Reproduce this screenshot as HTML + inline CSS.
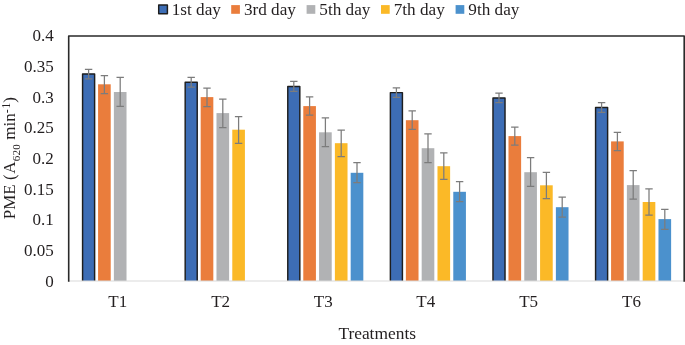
<!DOCTYPE html>
<html><head><meta charset="utf-8"><title>PME chart</title>
<style>html,body{margin:0;padding:0;background:#fff}svg{display:block}text{font-family:"Liberation Serif",serif;fill:#231f20}</style></head><body>
<svg width="685" height="345" viewBox="0 0 685 345">
<rect width="685" height="345" fill="#fff"/>
<rect x="82.58" y="73.90" width="12.04" height="207.10" fill="#3d6db5"/><path d="M82.58 281.00V73.90H94.62V281.00" fill="none" stroke="#1e1e1e" stroke-width="1.45" stroke-linejoin="round"/>
<rect x="98.08" y="84.30" width="12.64" height="196.70" fill="#ea7d3c"/>
<rect x="113.88" y="92.00" width="12.64" height="189.00" fill="#b1b2b4"/>
<rect x="185.18" y="82.30" width="12.04" height="198.70" fill="#3d6db5"/><path d="M185.18 281.00V82.30H197.22V281.00" fill="none" stroke="#1e1e1e" stroke-width="1.45" stroke-linejoin="round"/>
<rect x="200.68" y="97.10" width="12.64" height="183.90" fill="#ea7d3c"/>
<rect x="216.48" y="113.10" width="12.64" height="167.90" fill="#b1b2b4"/>
<rect x="232.28" y="129.70" width="12.64" height="151.30" fill="#fbb927"/>
<rect x="287.78" y="86.50" width="12.04" height="194.50" fill="#3d6db5"/><path d="M287.78 281.00V86.50H299.82V281.00" fill="none" stroke="#1e1e1e" stroke-width="1.45" stroke-linejoin="round"/>
<rect x="303.28" y="106.10" width="12.64" height="174.90" fill="#ea7d3c"/>
<rect x="319.08" y="132.30" width="12.64" height="148.70" fill="#b1b2b4"/>
<rect x="334.88" y="143.20" width="12.64" height="137.80" fill="#fbb927"/>
<rect x="350.68" y="172.80" width="12.64" height="108.20" fill="#4b91cd"/>
<rect x="390.38" y="92.60" width="12.04" height="188.40" fill="#3d6db5"/><path d="M390.38 281.00V92.60H402.42V281.00" fill="none" stroke="#1e1e1e" stroke-width="1.45" stroke-linejoin="round"/>
<rect x="405.88" y="120.20" width="12.64" height="160.80" fill="#ea7d3c"/>
<rect x="421.68" y="148.20" width="12.64" height="132.80" fill="#b1b2b4"/>
<rect x="437.48" y="166.20" width="12.64" height="114.80" fill="#fbb927"/>
<rect x="453.28" y="191.80" width="12.64" height="89.20" fill="#4b91cd"/>
<rect x="492.98" y="97.90" width="12.04" height="183.10" fill="#3d6db5"/><path d="M492.98 281.00V97.90H505.02V281.00" fill="none" stroke="#1e1e1e" stroke-width="1.45" stroke-linejoin="round"/>
<rect x="508.48" y="136.10" width="12.64" height="144.90" fill="#ea7d3c"/>
<rect x="524.28" y="172.20" width="12.64" height="108.80" fill="#b1b2b4"/>
<rect x="540.08" y="185.30" width="12.64" height="95.70" fill="#fbb927"/>
<rect x="555.88" y="207.20" width="12.64" height="73.80" fill="#4b91cd"/>
<rect x="595.58" y="107.50" width="12.04" height="173.50" fill="#3d6db5"/><path d="M595.58 281.00V107.50H607.62V281.00" fill="none" stroke="#1e1e1e" stroke-width="1.45" stroke-linejoin="round"/>
<rect x="611.08" y="141.40" width="12.64" height="139.60" fill="#ea7d3c"/>
<rect x="626.88" y="185.10" width="12.64" height="95.90" fill="#b1b2b4"/>
<rect x="642.68" y="202.00" width="12.64" height="79.00" fill="#fbb927"/>
<rect x="658.48" y="219.10" width="12.64" height="61.90" fill="#4b91cd"/>
<line x1="68.3" y1="281" x2="685" y2="281" stroke="#d9d9d9" stroke-width="1.2"/>
<path d="M88.60 69.20V78.80M84.90 69.30h7.4M84.90 78.90h7.4" stroke="#7c7c7c" stroke-width="1.25" fill="none"/>
<path d="M104.40 75.40V93.60M100.70 75.50h7.4M100.70 93.70h7.4" stroke="#7c7c7c" stroke-width="1.25" fill="none"/>
<path d="M120.20 77.30V106.30M116.50 77.40h7.4M116.50 106.40h7.4" stroke="#7c7c7c" stroke-width="1.25" fill="none"/>
<path d="M191.20 77.20V87.00M187.50 77.30h7.4M187.50 87.10h7.4" stroke="#7c7c7c" stroke-width="1.25" fill="none"/>
<path d="M207.00 88.00V106.50M203.30 88.10h7.4M203.30 106.60h7.4" stroke="#7c7c7c" stroke-width="1.25" fill="none"/>
<path d="M222.80 99.00V127.60M219.10 99.10h7.4M219.10 127.70h7.4" stroke="#7c7c7c" stroke-width="1.25" fill="none"/>
<path d="M238.60 116.60V143.30M234.90 116.70h7.4M234.90 143.40h7.4" stroke="#7c7c7c" stroke-width="1.25" fill="none"/>
<path d="M293.80 81.20V91.20M290.10 81.30h7.4M290.10 91.30h7.4" stroke="#7c7c7c" stroke-width="1.25" fill="none"/>
<path d="M309.60 96.70V115.10M305.90 96.80h7.4M305.90 115.20h7.4" stroke="#7c7c7c" stroke-width="1.25" fill="none"/>
<path d="M325.40 117.70V146.50M321.70 117.80h7.4M321.70 146.60h7.4" stroke="#7c7c7c" stroke-width="1.25" fill="none"/>
<path d="M341.20 130.00V156.40M337.50 130.10h7.4M337.50 156.50h7.4" stroke="#7c7c7c" stroke-width="1.25" fill="none"/>
<path d="M357.00 162.60V182.60M353.30 162.70h7.4M353.30 182.70h7.4" stroke="#7c7c7c" stroke-width="1.25" fill="none"/>
<path d="M396.40 87.70V97.30M392.70 87.80h7.4M392.70 97.40h7.4" stroke="#7c7c7c" stroke-width="1.25" fill="none"/>
<path d="M412.20 110.80V129.20M408.50 110.90h7.4M408.50 129.30h7.4" stroke="#7c7c7c" stroke-width="1.25" fill="none"/>
<path d="M428.00 133.70V162.40M424.30 133.80h7.4M424.30 162.50h7.4" stroke="#7c7c7c" stroke-width="1.25" fill="none"/>
<path d="M443.80 152.70V179.30M440.10 152.80h7.4M440.10 179.40h7.4" stroke="#7c7c7c" stroke-width="1.25" fill="none"/>
<path d="M459.60 181.40V201.40M455.90 181.50h7.4M455.90 201.50h7.4" stroke="#7c7c7c" stroke-width="1.25" fill="none"/>
<path d="M499.00 93.10V102.60M495.30 93.20h7.4M495.30 102.70h7.4" stroke="#7c7c7c" stroke-width="1.25" fill="none"/>
<path d="M514.80 126.90V145.10M511.10 127.00h7.4M511.10 145.20h7.4" stroke="#7c7c7c" stroke-width="1.25" fill="none"/>
<path d="M530.60 157.60V186.20M526.90 157.70h7.4M526.90 186.30h7.4" stroke="#7c7c7c" stroke-width="1.25" fill="none"/>
<path d="M546.40 172.30V198.60M542.70 172.40h7.4M542.70 198.70h7.4" stroke="#7c7c7c" stroke-width="1.25" fill="none"/>
<path d="M562.20 197.00V217.10M558.50 197.10h7.4M558.50 217.20h7.4" stroke="#7c7c7c" stroke-width="1.25" fill="none"/>
<path d="M601.60 102.40V112.20M597.90 102.50h7.4M597.90 112.30h7.4" stroke="#7c7c7c" stroke-width="1.25" fill="none"/>
<path d="M617.40 132.30V150.50M613.70 132.40h7.4M613.70 150.60h7.4" stroke="#7c7c7c" stroke-width="1.25" fill="none"/>
<path d="M633.20 170.50V199.10M629.50 170.60h7.4M629.50 199.20h7.4" stroke="#7c7c7c" stroke-width="1.25" fill="none"/>
<path d="M649.00 188.80V215.10M645.30 188.90h7.4M645.30 215.20h7.4" stroke="#7c7c7c" stroke-width="1.25" fill="none"/>
<path d="M664.80 209.20V229.30M661.10 209.30h7.4M661.10 229.40h7.4" stroke="#7c7c7c" stroke-width="1.25" fill="none"/>
<path d="M68.7 281.8V35.95H684.2V281.8" fill="none" stroke="#2a2a2a" stroke-width="1.6" stroke-linejoin="round"/>
<text x="53.7" y="286.60" font-size="17" text-anchor="end">0</text>
<text x="53.7" y="255.95" font-size="17" text-anchor="end">0.05</text>
<text x="53.7" y="225.30" font-size="17" text-anchor="end">0.1</text>
<text x="53.7" y="194.65" font-size="17" text-anchor="end">0.15</text>
<text x="53.7" y="164.00" font-size="17" text-anchor="end">0.2</text>
<text x="53.7" y="133.35" font-size="17" text-anchor="end">0.25</text>
<text x="53.7" y="102.70" font-size="17" text-anchor="end">0.3</text>
<text x="53.7" y="72.05" font-size="17" text-anchor="end">0.35</text>
<text x="53.7" y="41.40" font-size="17" text-anchor="end">0.4</text>
<text x="117.70" y="307" font-size="17" text-anchor="middle">T1</text>
<text x="220.60" y="307" font-size="17" text-anchor="middle">T2</text>
<text x="323.20" y="307" font-size="17" text-anchor="middle">T3</text>
<text x="425.80" y="307" font-size="17" text-anchor="middle">T4</text>
<text x="528.60" y="307" font-size="17" text-anchor="middle">T5</text>
<text x="631.50" y="307" font-size="17" text-anchor="middle">T6</text>
<text x="377.2" y="339.4" font-size="17.4" text-anchor="middle">Treatments</text>
<text transform="translate(15.2 219.2) rotate(-90)" font-size="17">PME (<tspan dx="0.7">A</tspan><tspan font-size="11" letter-spacing="0.3" dy="4.5">620</tspan><tspan dy="-4.5"> min</tspan><tspan font-size="11.5" dy="-5.3" letter-spacing="1">-</tspan><tspan font-size="11.5">1</tspan><tspan dy="5.3">)</tspan></text>
<rect x="158.70" y="5.0" width="8.7" height="8.7" fill="#3d6db5" stroke="#1e1e1e" stroke-width="1.45" stroke-linejoin="round"/>
<text x="171.70" y="14.6" font-size="17.2">1st day</text>
<rect x="231.20" y="5.1" width="8.7" height="8.7" fill="#ea7d3c"/>
<text x="243.90" y="14.6" font-size="17.2">3rd day</text>
<rect x="306.60" y="5.1" width="8.7" height="8.7" fill="#b1b2b4"/>
<text x="319.30" y="14.6" font-size="17.2">5th day</text>
<rect x="381.00" y="5.1" width="8.7" height="8.7" fill="#fbb927"/>
<text x="393.70" y="14.6" font-size="17.2">7th day</text>
<rect x="455.60" y="5.1" width="8.7" height="8.7" fill="#4b91cd"/>
<text x="468.30" y="14.6" font-size="17.2">9th day</text>
</svg></body></html>
